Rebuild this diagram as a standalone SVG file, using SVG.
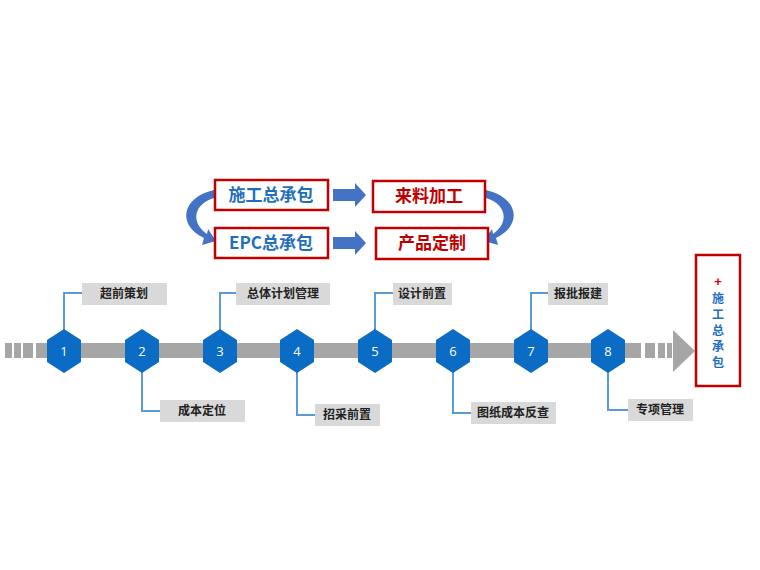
<svg xmlns="http://www.w3.org/2000/svg" width="760" height="570" viewBox="0 0 760 570">
<style>
.rb{fill:#fff;stroke:#c00000;stroke-width:2.5}
.bt{font-family:"Noto Sans CJK SC",sans-serif;font-weight:bold;font-size:17px;text-anchor:middle}
.hex{fill:#0a6cc4}
.num{font-family:"Open Sans",sans-serif;font-size:13px;fill:#fff;text-anchor:middle}
.lb{fill:#d9d9d9}
.lt{font-family:"Noto Sans CJK SC",sans-serif;font-weight:bold;font-size:12px;fill:#222;text-anchor:middle}
.ln{fill:none;stroke:#5b9bd5;stroke-width:2}
.bar{fill:#a6a6a6}
.ar{fill:#4472c4}
</style>
<rect width="760" height="570" fill="#fff"/>
<g id="connectors">
<path class="ar" d="M333,189 h22 v-6 l11,12 l-11,12 v-6 h-22z"/>
<path class="ar" d="M333,237 h22 v-6 l11,12 l-11,12 v-6 h-22z"/>
<path class="ar" d="M214,190 C180,198 178,226 204,238 l-2,7 l14,-4 l-8,-12 l-1,5 C190,222 194,204 214,198z"/>
<path class="ar" d="M486,190 C520,198 522,226 496,238 l2,7 l-14,-4 l8,-12 l1,5 C510,222 506,204 486,198z"/>
<path class="ln" d="M64,331 V293 H82"/>
<path class="ln" d="M220,331 V293 H236"/>
<path class="ln" d="M375,331 V293 H393"/>
<path class="ln" d="M531,331 V293 H548"/>
<path class="ln" d="M142,371 V411 H160"/>
<path class="ln" d="M297,371 V415 H315"/>
<path class="ln" d="M453,371 V413 H471"/>
<path class="ln" d="M608,371 V410 H628"/>
</g>
<g id="top">
<g id="n-sg"><rect class="rb" x="215" y="180" width="113" height="30"/><text class="bt" x="271" y="201" fill="#1f6fbf">施工总承包</text></g>
<g id="n-ll"><rect class="rb" x="373" y="181" width="112" height="31"/><text class="bt" x="429" y="202" fill="#c00000">来料加工</text></g>
<g id="n-epc"><rect class="rb" x="215" y="228" width="113" height="30"/><text class="bt" x="271" y="249" fill="#1f6fbf">EPC总承包</text></g>
<g id="n-cp"><rect class="rb" x="376" y="228" width="112" height="31"/><text class="bt" x="432" y="249" fill="#c00000">产品定制</text></g>
</g>
<g id="timeline">
<rect class="bar" x="5" y="343" width="7" height="15"/>
<rect class="bar" x="14" y="343" width="7" height="15"/>
<rect class="bar" x="23" y="343" width="10" height="15"/>
<rect class="bar" x="36" y="343" width="605" height="15"/>
<rect class="bar" x="645" y="343" width="10" height="15"/>
<rect class="bar" x="658" y="343" width="7" height="15"/>
<rect class="bar" x="667" y="343" width="5" height="15"/>
<path class="bar" d="M673,330 L695,351 L673,372z"/>
</g>
<g id="hexes">
<g id="h1"><path class="hex" d="M64,329 l17,11 v22 l-17,11 l-17,-11 v-22z"/><text class="num" x="64" y="356">1</text></g>
<g id="h2"><path class="hex" d="M142,329 l17,11 v22 l-17,11 l-17,-11 v-22z"/><text class="num" x="142" y="356">2</text></g>
<g id="h3"><path class="hex" d="M220,329 l17,11 v22 l-17,11 l-17,-11 v-22z"/><text class="num" x="220" y="356">3</text></g>
<g id="h4"><path class="hex" d="M297,329 l17,11 v22 l-17,11 l-17,-11 v-22z"/><text class="num" x="297" y="356">4</text></g>
<g id="h5"><path class="hex" d="M375,329 l17,11 v22 l-17,11 l-17,-11 v-22z"/><text class="num" x="375" y="356">5</text></g>
<g id="h6"><path class="hex" d="M453,329 l17,11 v22 l-17,11 l-17,-11 v-22z"/><text class="num" x="453" y="356">6</text></g>
<g id="h7"><path class="hex" d="M531,329 l17,11 v22 l-17,11 l-17,-11 v-22z"/><text class="num" x="531" y="356">7</text></g>
<g id="h8"><path class="hex" d="M608,329 l17,11 v22 l-17,11 l-17,-11 v-22z"/><text class="num" x="608" y="356">8</text></g>
</g>
<g id="labels">
<g id="l1"><rect class="lb" x="82" y="283" width="85" height="22"/><text class="lt" x="124" y="298">超前策划</text></g>
<g id="l3"><rect class="lb" x="236" y="283" width="94" height="22"/><text class="lt" x="283" y="298">总体计划管理</text></g>
<g id="l5"><rect class="lb" x="393" y="283" width="59" height="22"/><text class="lt" x="422" y="298">设计前置</text></g>
<g id="l7"><rect class="lb" x="548" y="283" width="60" height="22"/><text class="lt" x="578" y="298">报批报建</text></g>
<g id="l2"><rect class="lb" x="160" y="400" width="85" height="22"/><text class="lt" x="202" y="415">成本定位</text></g>
<g id="l4"><rect class="lb" x="315" y="404" width="65" height="22"/><text class="lt" x="347" y="419">招采前置</text></g>
<g id="l6"><rect class="lb" x="471" y="402" width="85" height="22"/><text class="lt" x="513" y="417">图纸成本反查</text></g>
<g id="l8"><rect class="lb" x="628" y="399" width="65" height="22"/><text class="lt" x="660" y="414">专项管理</text></g>
</g>
<g id="n-right">
<rect class="rb" x="696" y="255" width="44" height="131"/>
<text x="718" y="286" font-family="Liberation Sans,sans-serif" font-weight="bold" font-size="13" fill="#e00000" text-anchor="middle">+</text>
<g font-family="Noto Sans CJK SC,sans-serif" font-weight="bold" font-size="12" fill="#1f6fbf" text-anchor="middle">
<text x="718" y="303">施</text><text x="718" y="319">工</text><text x="718" y="335">总</text><text x="718" y="351">承</text><text x="718" y="367">包</text>
</g>
</g>
</svg>
